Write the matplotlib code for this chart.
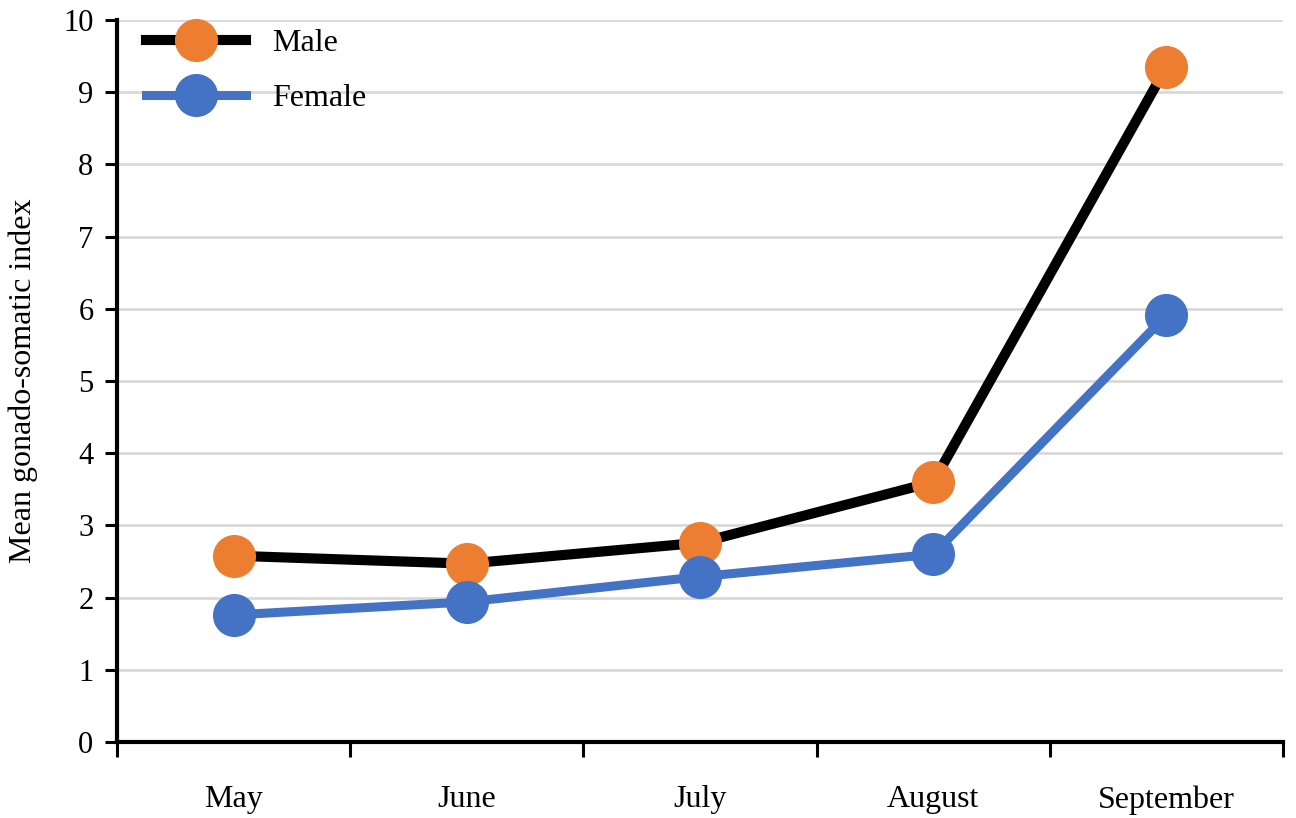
import numpy as np
import matplotlib.pyplot as plt

# Mean gonado-somatic index by month
months = ["May", "June", "July", "August", "September"]
male = [2.58, 2.47, 2.76, 3.60, 9.35]
female = [1.76, 1.94, 2.29, 2.60, 5.91]

plt.rcParams["font.family"] = ["Liberation Serif", "DejaVu Serif"]

fig = plt.figure(figsize=(12.96, 8.18), dpi=100)
ax = fig.add_axes([0.0903, 0.0929, 0.8997, 0.8827])

x = np.arange(len(months))
ax.plot(x, male, "-o", color="black", linewidth=7.3, markersize=30,
        markerfacecolor="#ED7D31", markeredgecolor="#ED7D31", label="Male", zorder=3)
ax.plot(x, female, "-o", color="#4472C4", linewidth=6.5, markersize=30,
        markerfacecolor="#4472C4", markeredgecolor="#4472C4", label="Female", zorder=3)

ax.set_xlim(-0.5, len(months) - 0.5)
ax.set_ylim(0, 10)
ax.set_yticks(range(0, 11))
ax.yaxis.grid(True, color="#d9d9d9", linewidth=2)
ax.set_axisbelow(True)

# category labels centred, ticks on the boundaries
ax.set_xticks(x)
ax.set_xticklabels(months)
ax.tick_params(axis="x", length=0, pad=31, labelsize=23)
ax.set_xticks(np.arange(-0.5, len(months)), minor=True)
ax.tick_params(axis="x", which="minor", length=11, width=2.2, direction="out")
ax.tick_params(axis="y", length=9, width=2.2, labelsize=22, pad=8)

for side in ["top", "right"]:
    ax.spines[side].set_visible(False)
for side in ["left", "bottom"]:
    ax.spines[side].set_linewidth(3)

ax.set_ylabel("Mean gonado-somatic index", fontsize=23, labelpad=18)

ax.legend(loc="upper left", bbox_to_anchor=(0.0, 1.028), frameon=False,
          fontsize=23, handlelength=3.15, labelspacing=0.8, handletextpad=0.8)

fig.savefig("out.png", dpi=100)
